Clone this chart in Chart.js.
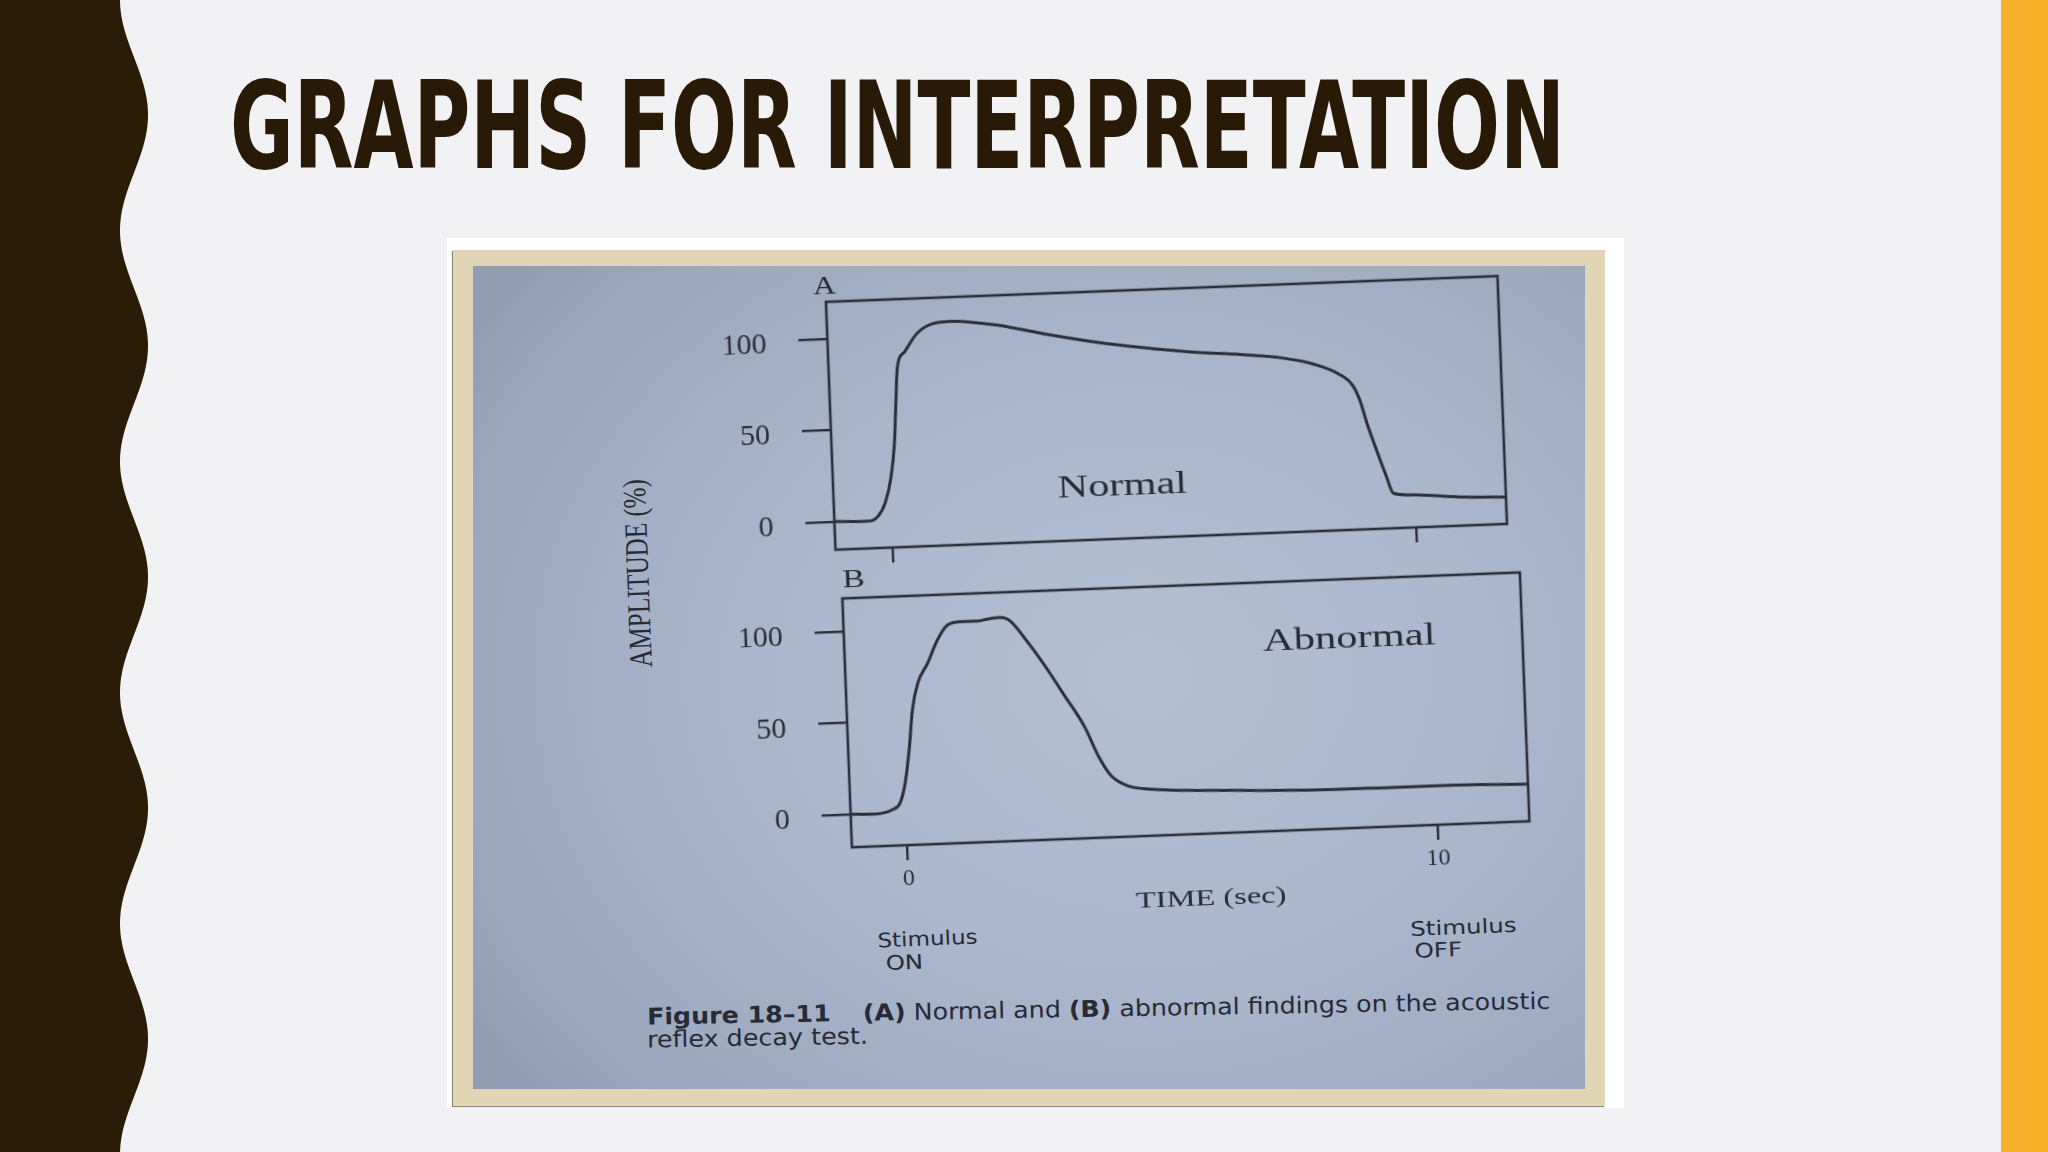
<!DOCTYPE html>
<html>
<head>
<meta charset="utf-8">
<script src="https://cdn.jsdelivr.net/npm/chart.js@4.4.1/dist/chart.umd.min.js"></script>
<style>
html,body{margin:0;padding:0;}
body{width:2048px;height:1152px;position:relative;overflow:hidden;background:#f2f2f4;}
.abs{position:absolute;}
#title{left:230px;top:65px;font-family:"DejaVu Sans",sans-serif;font-weight:bold;font-size:122px;line-height:1;color:#281a06;white-space:nowrap;transform-origin:0 0;font-stretch:condensed;}
#rbar{left:2001px;top:0;width:47px;height:1152px;background:#f7b12b;}
#white{left:447px;top:238px;width:1177px;height:870px;background:#ffffff;}
#tan{left:453px;top:250px;width:1152px;height:856px;background:#e1d5b5;box-shadow:-1px 1px 1px rgba(90,88,75,0.7);}
#photo{left:473px;top:266px;width:1112px;height:823px;
  background:radial-gradient(ellipse 72% 78% at 60% 50%, #b3bfd3 0%, #abb7cc 45%, #9ca8bd 85%, #919db2 100%);}
#fig{left:822.7px;top:303.3px;width:1px;height:1px;transform-origin:0 0;transform:rotate(-2.2deg);}
.t{position:absolute;white-space:nowrap;line-height:1;color:#262b36;}
.serif{font-family:"Liberation Serif","Times New Roman",serif;}
.sans{font-family:"Liberation Sans Narrow","DejaVu Sans Condensed","DejaVu Sans",sans-serif;font-stretch:condensed;}
canvas{position:absolute;}
</style>
</head>
<body>
<svg class="abs" style="left:0;top:0" width="200" height="1152"><path id="wave" fill="#2a1c06"/></svg>
<div id="rbar" class="abs"></div>
<div id="title" class="abs">GRAPHS FOR INTERPRETATION</div>
<div id="white" class="abs"></div>
<div id="tan" class="abs"></div>
<div id="photo" class="abs"></div>
<div id="fig" class="abs"></div>
<script>
// ---- data ----
const timeA = [-1.08, -0.44, -0.25, -0.1, 0.03, 0.12, 0.18, 0.23, 0.38, 0.62, 0.9, 1.27, 1.64, 2.19, 3.11, 4.02, 4.94, 5.86, 6.78, 7.52, 8.16, 8.61, 8.88, 9.01, 9.13, 9.29, 9.46, 9.58, 9.9, 10.82, 11.72];
const ampA  = [0, -0.6, 1.8, 9, 23, 41.5, 65, 83, 91.5, 101, 106, 107.2, 106.4, 104, 98, 92.8, 88.7, 85.3, 82.9, 80.4, 76.1, 70.5, 63.8, 55.4, 42.5, 27.8, 13, 3.7, 2.5, 0.3, -0.8];
const timeB = [-1.05, -0.59, -0.26, -0.11, 0.0, 0.1, 0.19, 0.31, 0.51, 0.71, 0.91, 1.15, 1.48, 1.67, 1.9, 2.09, 2.36, 2.71, 3.06, 3.42, 3.68, 3.9, 4.22, 4.59, 6.09, 7.5, 8.9, 10.31, 11.8];
const ampB  = [0, -0.3, 1.7, 5.2, 16, 34.1, 55.8, 70.3, 81, 93.5, 101.4, 103, 103, 103.9, 104.5, 102.5, 92.6, 77.6, 60.8, 43.2, 25.6, 15.3, 9.5, 7.6, 5.2, 3.7, 3.4, 3.3, 2.3];
const yTicks = [0, 50, 100];
const yTickLabels = ['0', '50', '100'];
const xTicks = [0, 10];
const xTickLabels = ['0', '10'];

const INK = '#2a2f3b';
const SERIF = '"Liberation Serif","Times New Roman",serif';

// decorative wavy left band
(function(){
  let d = 'M0,0';
  for (let y = 0; y <= 1152; y += 3) {
    const x = 134 + 14 * Math.cos(2 * Math.PI * (y - 115) / 231);
    d += ' L' + x.toFixed(2) + ',' + y;
  }
  d += ' L0,1152 Z';
  document.getElementById('wave').setAttribute('d', d);
})();

// fit title width
(function(){
  const t = document.getElementById('title');
  const w = t.offsetWidth;
  t.style.transform = 'scaleX(' + (1335 / w) + ')';
})();

const fig = document.getElementById('fig');

const framePlugin = {
  id: 'frame',
  afterDraw(c) {
    const a = c.chartArea, ctx = c.ctx;
    ctx.save();
    ctx.strokeStyle = INK;
    ctx.lineWidth = 2.6;
    ctx.strokeRect(a.left, a.top, a.right - a.left, a.bottom - a.top);
    ctx.restore();
  }
};

function makeChart(frame, times, amps, xr, yr, showX) {
  const padL = 130, padR = 20, padT = 60, padB = showX ? 70 : 60;
  const cv = document.createElement('canvas');
  const W = frame.w + padL + padR, H = frame.h + padT + padB;
  cv.width = W; cv.height = H;
  cv.style.width = W + 'px'; cv.style.height = H + 'px';
  cv.style.left = (frame.x - padL) + 'px';
  cv.style.top = (frame.y - padT) + 'px';
  fig.appendChild(cv);
  new Chart(cv, {
    type: 'line',
    data: {
      datasets: [{
        data: times.map((t, i) => ({ x: t, y: amps[i] })),
        borderColor: INK,
        borderWidth: 3,
        pointRadius: 0,
        fill: false,
        cubicInterpolationMode: 'monotone'
      }]
    },
    options: {
      responsive: false,
      animation: false,
      devicePixelRatio: 1,
      layout: { padding: { top: padT, right: padR, left: 0, bottom: 0 } },
      plugins: { legend: { display: false }, tooltip: { enabled: false } },
      scales: {
        x: {
          type: 'linear', min: xr[0], max: xr[1],
          afterBuildTicks: a => { a.ticks = xTicks.map(v => ({ value: v })); },
          afterFit: s => { s.height = padB; },
          grid: { drawOnChartArea: false, drawTicks: true, tickLength: 15, color: INK, lineWidth: 2.4 },
          border: { display: false },
          ticks: {
            display: showX, padding: 4, autoSkip: false, maxRotation: 0,
            font: { family: SERIF, size: 24 }, color: INK,
            callback: v => { const i = xTicks.indexOf(v); return i >= 0 ? xTickLabels[i] : ''; }
          }
        },
        y: {
          type: 'linear', min: yr[0], max: yr[1],
          afterBuildTicks: a => { a.ticks = yTicks.map(v => ({ value: v })); },
          afterFit: s => { s.width = padL; },
          grid: { drawOnChartArea: false, drawTicks: true, tickLength: 29, color: INK, lineWidth: 2.4 },
          border: { display: false },
          ticks: {
            padding: 32, autoSkip: false, labelOffset: 4,
            font: { family: SERIF, size: 30 }, color: INK,
            callback: v => { const i = yTicks.indexOf(v); return i >= 0 ? yTickLabels[i] : ''; }
          }
        }
      }
    },
    plugins: [framePlugin]
  });
}

makeChart({ x: 3, y: -1, w: 672, h: 248 }, timeA, ampA, [-1.08, 11.72], [-15.5, 120.5], false);
makeChart({ x: 8, y: 296, w: 678, h: 249 }, timeB, ampB, [-1.05, 11.74], [-18, 118.2], true);

function addText(parent, html, cx, cy, o) {
  const s = document.createElement('span');
  s.className = 't ' + (o.cls || 'serif');
  s.style.fontSize = o.size + 'px';
  if (o.weight) s.style.fontWeight = o.weight;
  s.innerHTML = html;
  s.style.left = cx + 'px';
  s.style.top = cy + 'px';
  parent.appendChild(s);
  const w = s.offsetWidth;
  const sx = o.w ? o.w / w : 1;
  const sy = o.sy || 1;
  const rot = o.rot ? 'rotate(' + o.rot + 'deg) ' : '';
  s.style.transform = 'translate(-50%,-50%) ' + rot + 'scale(' + sx + ',' + sy + ')';
}

addText(fig, 'A', 1.5, -16.6, { size: 26, w: 23 });
addText(fig, 'B', 20.3, 277, { size: 26, w: 22 });
addText(fig, 'Normal', 291.8, 193.3, { size: 31, w: 130 });
addText(fig, 'Abnormal', 513.2, 354.4, { size: 31, w: 173 });
addText(fig, 'AMPLITUDE (%)', -196.5, 262.6, { size: 25, w: 188, sy: 1.3, rot: -90 });
addText(fig, 'TIME (sec)', 365.1, 608.7, { size: 23, w: 151 });
addText(fig, 'Stimulus', 80.4, 639.2, { size: 20, w: 100, cls: 'sans' });
addText(fig, 'ON', 55.9, 661.8, { size: 20, w: 38, cls: 'sans' });
addText(fig, 'Stimulus', 615.6, 648.3, { size: 20, w: 106, cls: 'sans' });
addText(fig, 'OFF', 590, 670.1, { size: 20, w: 48, cls: 'sans' });

function addLine(html, left, cy, size, w, rot) {
  const s = document.createElement('span');
  s.className = 't sans';
  s.style.fontSize = size + 'px';
  s.innerHTML = html;
  s.style.left = left + 'px';
  s.style.top = cy + 'px';
  s.style.transformOrigin = '0 50%';
  document.body.appendChild(s);
  const sx = w / s.offsetWidth;
  s.style.transform = 'translateY(-50%) rotate(' + rot + 'deg) scaleX(' + sx + ')';
}
addLine('<b>Figure 18–11</b>&nbsp;&nbsp;&nbsp;&nbsp;<b>(A)</b> Normal and <b>(B)</b> abnormal findings on the acoustic', 647, 1017, 23, 903, -1.0);
addLine('reflex decay test.', 647, 1040, 23, 221, -1.0);
</script>
</body>
</html>
